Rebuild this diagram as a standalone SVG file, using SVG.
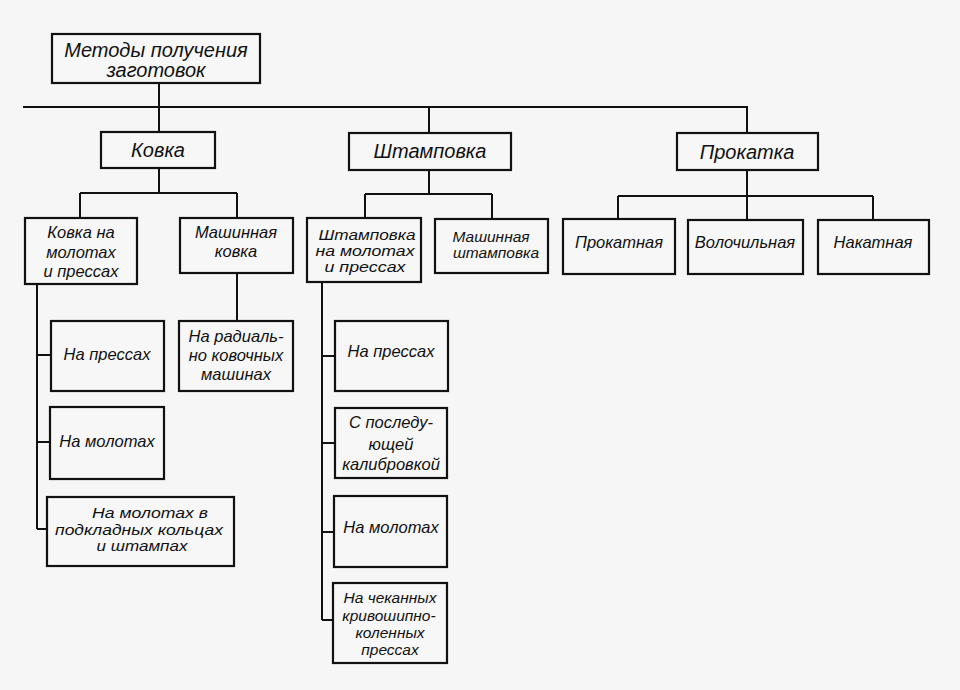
<svg xmlns="http://www.w3.org/2000/svg" width="960" height="690" viewBox="0 0 960 690">
<style>
.bg{fill:#f6f6f6}
.box rect{fill:#f7f7f7;stroke:#111;stroke-width:2.2}
.box text{font-family:"Liberation Sans",Arial,sans-serif;font-style:italic;fill:#111;text-anchor:middle}
.big text{font-size:20px}
.sm text{font-size:16.5px}
.sm.tight text{font-size:14px}
.sm.mid text{font-size:15.5px}
#connectors path{fill:none;stroke:#111;stroke-width:2}
</style>
<rect class="bg" x="0" y="0" width="960" height="690"/>
<g id="connectors">
<path d="M159 83V107M23 107H747V133M159 107V132"/>
<path d="M429 107V133"/>
<path d="M159 168V193M80 193H237M80 193V218M237 193V218M237 273V321"/>
<path d="M429 170V194M365 194H492M365 194V218M492 194V219"/>
<path d="M747 170V196M618 196H873M618 196V219M747 196V220M873 196V220"/>
<path d="M37 284V529M37 355H51M37 442H50M37 529H47"/>
<path d="M322 282V620M322 356H335M322 443H335M322 532H334M322 620H333"/>
</g>
<g id="root" class="box big"><rect x="52" y="34" width="208" height="49"/><text x="156" y="57">Методы получения</text><text x="156" y="77">заготовок</text></g>
<g id="kovka" class="box big"><rect x="101" y="132" width="114" height="36"/><text x="158" y="157">Ковка</text></g>
<g id="shtampovka" class="box big"><rect x="349" y="133" width="162" height="37"/><text x="430" y="158">Штамповка</text></g>
<g id="prokatka" class="box big"><rect x="677" y="133" width="141" height="37"/><text x="747" y="159">Прокатка</text></g>
<g id="kovka-mol-press" class="box sm"><rect x="25" y="218" width="112" height="66"/><text x="81" y="238">Ковка на</text><text x="81" y="258">молотах</text><text x="81" y="277">и прессах</text></g>
<g id="mash-kovka" class="box sm"><rect x="180" y="218" width="113" height="55"/><text x="236" y="238">Машинная</text><text x="236" y="257">ковка</text></g>
<g id="radial" class="box sm"><rect x="179" y="321" width="114" height="70"/><text x="236" y="342">На радиаль-</text><text x="236" y="361">но ковочных</text><text x="236" y="380">машинах</text></g>
<g id="k-press" class="box sm"><rect x="51" y="321" width="113" height="70"/><text x="107" y="360">На прессах</text></g>
<g id="k-mol" class="box sm"><rect x="50" y="407" width="114" height="72"/><text x="107" y="447">На молотах</text></g>
<g id="k-kolca" class="box sm tight"><rect x="47" y="497" width="187" height="69"/><text x="150" y="518" textLength="116" lengthAdjust="spacingAndGlyphs">На молотах в</text><text x="139" y="535" textLength="168" lengthAdjust="spacingAndGlyphs">подкладных кольцах</text><text x="142" y="551" textLength="91" lengthAdjust="spacingAndGlyphs">и штампах</text></g>
<g id="sh-mol-press" class="box sm tight"><rect x="307" y="218" width="114" height="64"/><text x="367" y="240" textLength="97" lengthAdjust="spacingAndGlyphs">Штамповка</text><text x="365" y="256" textLength="99" lengthAdjust="spacingAndGlyphs">на молотах</text><text x="365" y="272" textLength="81" lengthAdjust="spacingAndGlyphs">и прессах</text></g>
<g id="mash-sht" class="box sm mid"><rect x="435" y="219" width="113" height="54"/><text x="491" y="242">Машинная</text><text x="496" y="258">штамповка</text></g>
<g id="prokatnaya" class="box sm"><rect x="563" y="219" width="112" height="55"/><text x="619" y="248">Прокатная</text></g>
<g id="volochilnaya" class="box sm"><rect x="688" y="220" width="115" height="54"/><text x="745" y="248">Волочильная</text></g>
<g id="nakatnaya" class="box sm"><rect x="818" y="220" width="111" height="54"/><text x="873" y="248">Накатная</text></g>
<g id="s-press" class="box sm"><rect x="335" y="321" width="113" height="70"/><text x="391" y="357">На прессах</text></g>
<g id="s-kalibr" class="box sm"><rect x="335" y="408" width="112" height="70"/><text x="391" y="428">С последу-</text><text x="391" y="450">ющей</text><text x="391" y="470">калибровкой</text></g>
<g id="s-mol" class="box sm"><rect x="334" y="496" width="113" height="71"/><text x="391" y="533">На молотах</text></g>
<g id="s-chek" class="box sm mid"><rect x="333" y="583" width="114" height="80"/><text x="390" y="603">На чеканных</text><text x="389" y="621">кривошипно-</text><text x="390" y="638">коленных</text><text x="390" y="655">прессах</text></g>
</svg>
